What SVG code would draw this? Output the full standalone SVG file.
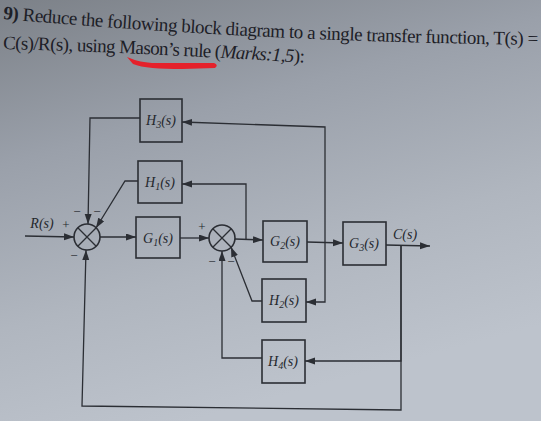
<svg xmlns="http://www.w3.org/2000/svg" width="541" height="421" viewBox="0 0 541 421">
<defs>
<linearGradient id="bg" x1="0" y1="0" x2="0.35" y2="1">
<stop offset="0" stop-color="#7c8188"/>
<stop offset="0.35" stop-color="#9aa0aa"/>
<stop offset="0.7" stop-color="#b0b6bf"/>
<stop offset="1" stop-color="#bdc3cc"/>
</linearGradient>
<marker id="ar" markerUnits="userSpaceOnUse" markerWidth="11" markerHeight="8" refX="10" refY="3.5" orient="auto">
<path d="M0,0 L10,3.5 L0,7 Z" fill="#2b2e34"/>
</marker>
<path id="l1" d="M3,19 Q280,43 560,45"/>
<path id="l2" d="M3,49 Q150,53 310,63"/>
</defs>
<style>
text{font-family:'Liberation Serif','Times New Roman','DejaVu Serif',serif}
.t{fill:#1d2027;font-size:19px}
.b{fill:none;stroke:#2b2e34;stroke-width:1.6}
.w{fill:none;stroke:#2b2e34;stroke-width:1.3}
.a{marker-end:url(#ar)}
.lb{font-style:italic;fill:#24272d;font-size:14px;text-anchor:middle}
.sg{fill:#24272d;font-size:13px;text-anchor:middle}
</style>
<rect width="541" height="421" fill="url(#bg)"/>

<g id="title">
<text class="t" font-family="Liberation Serif, serif"><textPath href="#l1" textLength="536" lengthAdjust="spacing"><tspan font-weight="bold">9)</tspan> Reduce the following block diagram to a single transfer function, T(s) =</textPath></text>
<text class="t" font-family="Liberation Serif, serif"><textPath href="#l2" textLength="302" lengthAdjust="spacing">C(s)/R(s), using Mason’s rule (<tspan font-style="italic">Marks:1,5</tspan>):</textPath></text>
<path d="M127,57 C134,60 140,62 152,63 L214,63 Q219,65 215,68 L182,69 C160,69 142,68 133,64 Z" fill="#e5212b"/>
</g>

<g id="connectors">
<line class="w a" x1="25" y1="236" x2="74" y2="237"/>
<line class="w a" x1="100" y1="237" x2="136" y2="237"/>
<line class="w a" x1="180" y1="238" x2="209" y2="238"/>
<line class="w a" x1="235" y1="239" x2="263" y2="240"/>
<polyline class="w a" points="246,239 246,184 182,184"/>
<polyline class="w a" points="138,181 125,181 96,228"/>
<polyline class="w a" points="325,242 325,127 182,122"/>
<polyline class="w a" points="140,118 90,118 88,224"/>
<line class="w a" x1="307" y1="242" x2="343" y2="243"/>
<polyline class="w a" points="325,242 325,302 306,302"/>
<polyline class="w a" points="262,301 252,301 231,247"/>
<polyline class="w a" points="401,246 401,361 305,361"/>
<polyline class="w a" points="262,358 222,358 222,251"/>
<line class="w a" x1="386" y1="245" x2="430" y2="246"/>
<polyline class="w a" points="401,246 401,410 82,406 86,250"/>
</g>

<g id="R">
<text class="lb" x="42" y="228">R(s)</text>
</g>
<g id="C">
<text class="lb" x="405" y="239">C(s)</text>
</g>

<g id="sum1">
<circle class="b" cx="87" cy="237" r="13"/>
<path class="w" d="M77.8,227.8 L96.2,246.2 M96.2,227.8 L77.8,246.2"/>
<text class="sg" x="66" y="229">+</text>
<text class="sg" x="77" y="216">−</text>
<text class="sg" x="97" y="216">−</text>
<text class="sg" x="74" y="260">−</text>
</g>

<g id="sum2">
<circle class="b" cx="222" cy="238" r="13"/>
<path class="w" d="M212.8,228.8 L231.2,247.2 M231.2,228.8 L212.8,247.2"/>
<text class="sg" x="202" y="231">+</text>
<text class="sg" x="212" y="266">−</text>
<text class="sg" x="231" y="266">−</text>
</g>

<g id="H3">
<rect class="b" x="140" y="99" width="42" height="43"/>
<text class="lb" x="161" y="125">H<tspan font-size="10" dy="3">3</tspan><tspan dy="-3">(s)</tspan></text>
</g>
<g id="H1">
<rect class="b" x="138" y="161" width="44" height="42"/>
<text class="lb" x="160" y="187">H<tspan font-size="10" dy="3">1</tspan><tspan dy="-3">(s)</tspan></text>
</g>
<g id="G1">
<rect class="b" x="136" y="217" width="44" height="41"/>
<text class="lb" x="158" y="243">G<tspan font-size="10" dy="3">1</tspan><tspan dy="-3">(s)</tspan></text>
</g>
<g id="G2">
<rect class="b" x="263" y="221" width="44" height="41"/>
<text class="lb" x="285" y="246">G<tspan font-size="10" dy="3">2</tspan><tspan dy="-3">(s)</tspan></text>
</g>
<g id="G3">
<rect class="b" x="343" y="222" width="43" height="43"/>
<text class="lb" x="364" y="248">G<tspan font-size="10" dy="3">3</tspan><tspan dy="-3">(s)</tspan></text>
</g>
<g id="H2">
<rect class="b" x="262" y="279" width="44" height="43"/>
<text class="lb" x="284" y="305">H<tspan font-size="10" dy="3">2</tspan><tspan dy="-3">(s)</tspan></text>
</g>
<g id="H4">
<rect class="b" x="262" y="340" width="43" height="43"/>
<text class="lb" x="283" y="366">H<tspan font-size="10" dy="3">4</tspan><tspan dy="-3">(s)</tspan></text>
</g>
</svg>
